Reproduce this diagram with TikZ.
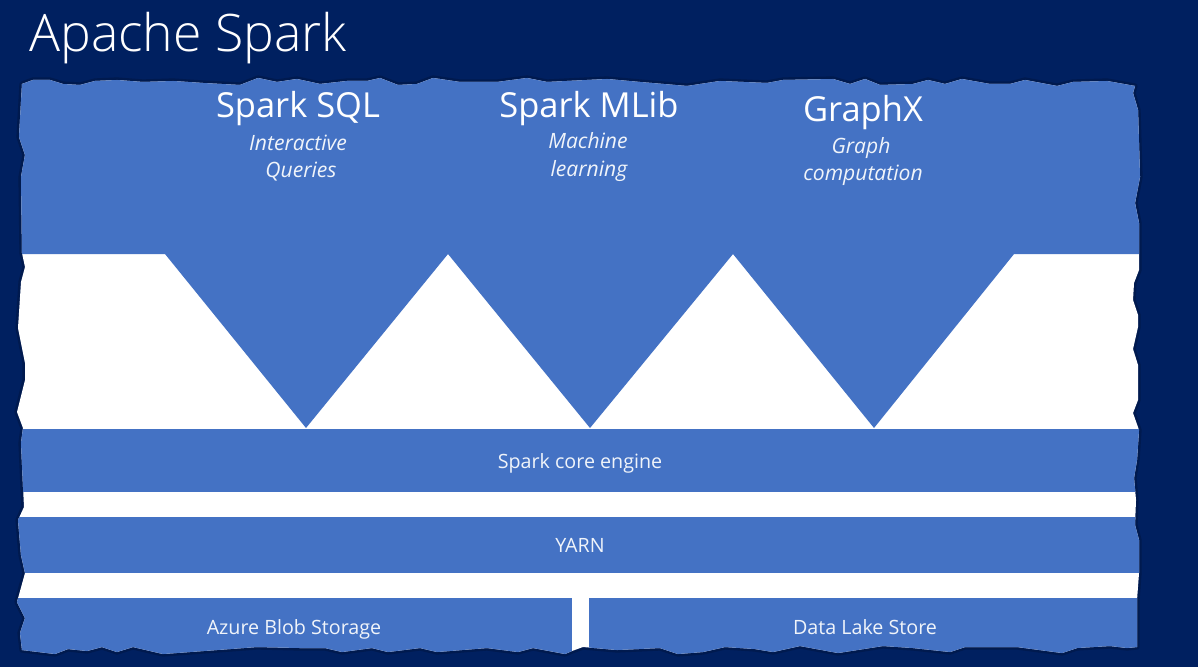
\documentclass[tikz,border=0pt]{standalone}
\usepackage{fontspec}
\setmainfont{Open Sans}
\newfontfamily\lightfont{Open Sans Light}
\definecolor{slidenavy}{HTML}{002060}
\definecolor{sparkblue}{HTML}{4472C4}
\def\tornoutline{(22,84) -- (33,80) -- (50,80) -- (63,84) -- (80,85) -- (95,81) -- (117,80) -- (143,82) -- (173,81) -- (203,83) -- (240,85) -- (258,78) -- (277,82) -- (297,79) -- (320,84) -- (347,81) -- (367,81) -- (380,78) -- (398,85) -- (417,84) -- (433,78) -- (460,82) -- (497,82) -- (527,78) -- (547,82) -- (607,79) -- (640,82) -- (687,86) -- (720,81) -- (767,83) -- (783,80) -- (833,79) -- (850,84) -- (865,79) -- (880,85) -- (913,84) -- (928,80) -- (945,84) -- (962,79) -- (990,84) -- (1010,84) -- (1025,80) -- (1057,86) -- (1073,82) -- (1107,81) -- (1135,86) -- (1133,93) -- (1138,110) -- (1140,177) -- (1135,203) -- (1139,223) -- (1139,270) -- (1134,283) -- (1133,300) -- (1138,315) -- (1138,327) -- (1133,349) -- (1138,365) -- (1138,400) -- (1133,413) -- (1139,430) -- (1137,460) -- (1134,478) -- (1136,500) -- (1135,525) -- (1139,540) -- (1139,573) -- (1137,600) -- (1137,647) -- (1127,648) -- (1110,646) -- (1077,648) -- (1062,653) -- (1017,647) -- (993,647) -- (965,647) -- (950,652) -- (913,648) -- (883,646) -- (838,653) -- (800,646) -- (773,652) -- (755,649) -- (725,647) -- (703,652) -- (678,654) -- (660,648) -- (617,650) -- (583,647) -- (572,651) -- (565,654) -- (533,648) -- (518,652) -- (487,648) -- (437,652) -- (420,648) -- (388,652) -- (372,648) -- (342,652) -- (325,648) -- (300,648) -- (257,647) -- (217,650) -- (163,654) -- (133,647) -- (117,652) -- (102,647) -- (87,651) -- (68,649) -- (55,654) -- (22,650) -- (20,633) -- (25,618) -- (17,602) -- (25,573) -- (21,555) -- (18,520) -- (24,507) -- (23,487) -- (21,443) -- (23,428) -- (17,412) -- (25,380) -- (25,363) -- (18,328) -- (21,282) -- (25,267) -- (22,253) -- (21,177) -- (25,155) -- (19,137) -- cycle}
\tikzset{
	headlabel/.style={anchor=base, text=white, font=\fontsize{9.8}{12}\selectfont},
	sublabel/.style={anchor=base, text=white!92!sparkblue, font=\fontsize{6.0}{8}\selectfont\itshape},
	bandlabel/.style={anchor=base, text=white!92!sparkblue, font=\fontsize{5.6}{7}\selectfont},
}

\begin{document}
\begin{tikzpicture}[x=0.01cm, y=-0.01cm]
		%%%%% START %%%%%
		
		\fill[slidenavy] (0, 0) rectangle (1198, 667);
		\useasboundingbox (0, 0) rectangle (1198, 667);
		
		\node[anchor=base, text=white, font=\lightfont\fontsize{14.7}{18}\selectfont] (apachetitle) at (188, 52) {Apache Spark};
		
		% soft edge round the torn sheet
		\draw[slidenavy!82!black, line width=1.5pt, line join=round] \tornoutline;
		
		\begin{scope}
			\clip \tornoutline;
			\fill[white] (0, 60) rectangle (1198, 667);
			
			\fill[sparkblue] (0, 60) -- (1198, 60) -- (1198, 254) -- (1014, 254) -- (874, 428) -- (733, 254) -- (590, 428) -- (448, 254) -- (306, 428) -- (165, 254) -- (0, 254) -- cycle;
			
			\fill[sparkblue] (0, 429) rectangle (1198, 492);
			\fill[sparkblue] (0, 517) rectangle (1198, 573);
			\fill[sparkblue] (0, 598) rectangle (572, 667);
			\fill[sparkblue] (589, 598) rectangle (1198, 667);
		\end{scope}
		
		\node[headlabel] (sparksql) at (298, 118) {Spark SQL};
		\node[sublabel] (interactive) at (298, 150) {Interactive};
		\node[sublabel] (queries) at (301, 177) {Queries};
		
		\node[headlabel] (sparkmlib) at (589, 117) {Spark MLib};
		\node[sublabel] (machine) at (588, 148) {Machine};
		\node[sublabel] (learning) at (589, 176) {learning};
		
		\node[headlabel] (graphx) at (863, 121) {GraphX};
		\node[sublabel] (graph) at (861, 153) {Graph};
		\node[sublabel] (computation) at (863, 180) {computation};
		
		\node[bandlabel] (coreengine) at (580, 468) {Spark core engine};
		\node[bandlabel] (yarn) at (580, 552) {YARN};
		\node[bandlabel] (blobstorage) at (294, 634) {Azure Blob Storage};
		\node[bandlabel] (datalake) at (865, 634) {Data Lake Store};
		
		%%%%% END %%%%%
	\end{tikzpicture}
\end{document}
